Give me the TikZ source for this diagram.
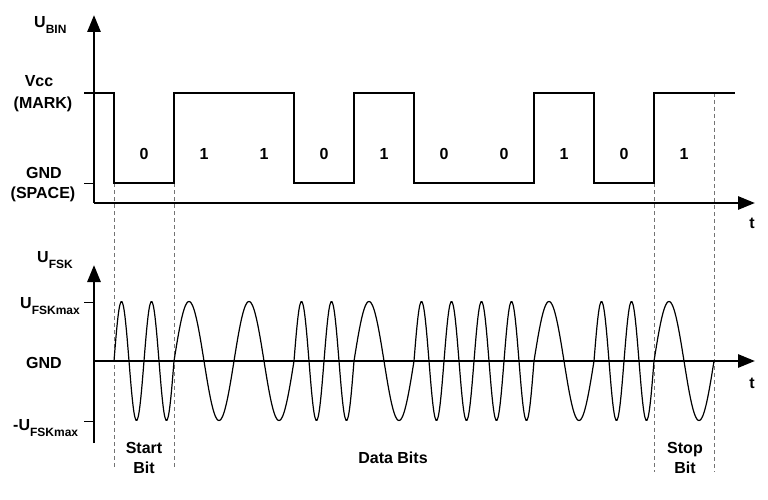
\documentclass[tikz,border=0pt]{standalone}
\usepackage{fontspec}
\setmainfont{Liberation Sans}
\usetikzlibrary{arrows.meta}
\newcommand\Usub[1]{U\raisebox{-6pt}{\fontsize{12}{14}\selectfont #1}}
\begin{document}
\begin{tikzpicture}[x=1pt,y=-1pt,
  axis/.style={line width=2.8pt,-{Triangle[length=17pt,width=13pt]}},
  sig/.style={line width=1.2pt,line join=miter},
  guide/.style={black!55,line width=1pt,dash pattern=on 4pt off 3pt},
  tickl/.style={line width=0.8pt},
  lbl/.style={font=\fontsize{16}{20}\selectfont\bfseries,inner sep=0pt,anchor=base}]
\useasboundingbox[fill=white] (0,0) rectangle (768,500);
% ---- top: binary signal ----
\coordinate (o1) at (94,203);
\coordinate (y1) at (94,15);
\coordinate (x1) at (755,203);
\draw[guide] (114,183) -- (114,469);
\draw[guide] (174,183) -- (174,469);
\draw[guide] (654,183) -- (654,472);
\draw[guide] (714,93) -- (714,472);
\draw[axis] (o1) -- (y1);
\draw[axis] (o1) -- (x1);
\draw[tickl] (84,183) -- (94,183);
\draw[sig] (84,93) -- (114,93) -- (114,183) -- (174,183) -- (174,93) -- (294,93)
  -- (294,183) -- (354,183) -- (354,93) -- (414,93) -- (414,183) -- (534,183)
  -- (534,93) -- (594,93) -- (594,183) -- (654,183) -- (654,93) -- (735,93);
\foreach \b [count=\i from 0] in {0,1,1,0,1,0,0,1,0,1}
  \node[lbl] (bit\i) at ({144+60*\i},159) {\b};
\node[lbl,anchor=base west] (ubin) at (34,28) {\Usub{BIN}};
\node[lbl] (vcc) at (39,87) {Vcc};
\node[lbl] (mark) at (43,109) {(MARK)};
\node[lbl] (gnd1) at (44,178) {GND};
\node[lbl] (space) at (43,198) {(SPACE)};
\node[lbl] (t1) at (752,228) {t};
% ---- bottom: FSK signal ----
\coordinate (o2) at (94,443);
\coordinate (y2) at (94,265);
\coordinate (a2) at (94,361);
\coordinate (x2) at (755,361);
\draw[axis] (o2) -- (y2);
\draw[axis] (a2) -- (x2);
\draw[tickl] (84,302) -- (94,302);
\draw[tickl] (84,421) -- (94,421);
\foreach \b [count=\i from 0] in {0,1,1,0,1,0,0,1,0,1}{
  \pgfmathsetmacro\xs{114+60*\i}
  \pgfmathsetmacro\fr{\b==0 ? 12 : 6}
  \draw[sig] plot[domain=0:60,samples=61,smooth,variable=\t]
    ({\xs+\t},{361-59.5*sin(\fr*\t)});
}
\node[lbl,anchor=base west] (ufsk) at (37,262) {\Usub{FSK}};
\node[lbl,anchor=base west] (umax) at (20,308) {\Usub{FSKmax}};
\node[lbl] (gnd2) at (44,368) {GND};
\node[lbl,anchor=base west] (umin) at (13,430) {-\Usub{FSKmax}};
\node[lbl] (t2) at (752,388) {t};
\node[lbl] (start) at (144,453) {Start};
\node[lbl] (startb) at (144,473) {Bit};
\node[lbl] (data) at (393,463) {Data Bits};
\node[lbl] (stop) at (685,453) {Stop};
\node[lbl] (stopb) at (685,473) {Bit};
\end{tikzpicture}
\end{document}
